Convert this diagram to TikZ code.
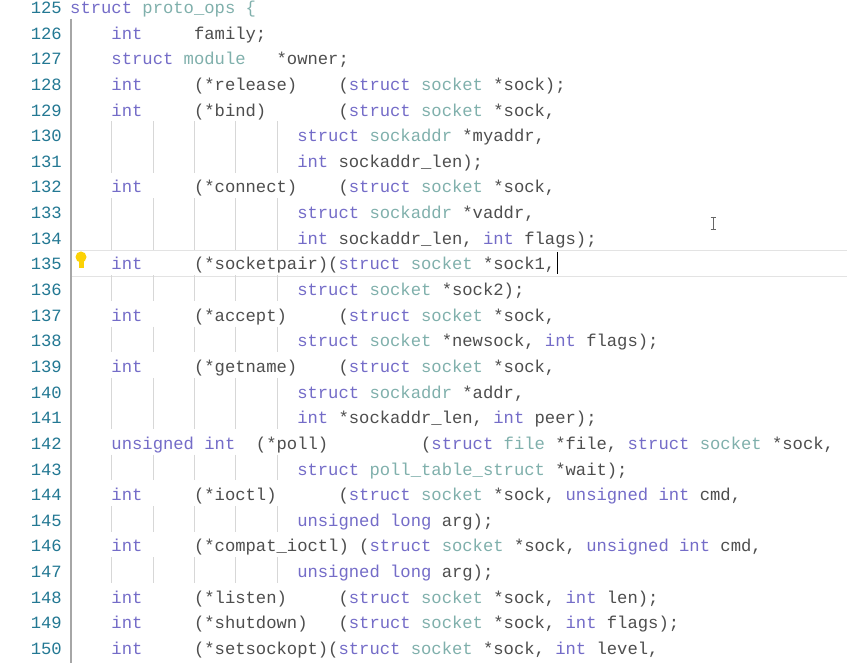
\documentclass[tikz,border=0pt]{standalone}
\usepackage{fontspec}
\setmonofont{Liberation Mono}
\definecolor{kwc}{RGB}{116,108,200}
\definecolor{tyc}{RGB}{128,176,172}
\definecolor{idc}{RGB}{78,78,78}
\definecolor{numc}{RGB}{35,120,147}
\definecolor{guidec}{RGB}{215,215,215}
\newcommand\ckw[1]{\textcolor{kwc}{#1}}
\newcommand\cty[1]{\textcolor{tyc}{#1}}
\begin{document}
\begin{tikzpicture}[x=1pt,y=-1pt,
  code/.style={anchor=base west,inner sep=0pt,font=\ttfamily\fontsize{17.2}{20}\selectfont,text=idc},
  lnum/.style={anchor=base east,inner sep=0pt,font=\ttfamily\fontsize{17.2}{20}\selectfont,text=numc}]
\useasboundingbox (0,0) rectangle (847,663);
\fill[white] (0,0) rectangle (847,663);
% current line highlight
\draw[guidec!70,fill=white] (71,250) rectangle (860,276);
% gutter guide
\draw[gray!70,line width=1.2pt] (71,19) -- (71,663);
% continuation guides
\foreach \n in {130,131,133,134,136,138,140,141,143,145,147}{
  \foreach \c in {4,8,12,16,20}{
    \draw[guidec] ({70+\c*10.35},{6+(\n-125)*25.64-12.8}) -- ({70+\c*10.35},{6+(\n-125)*25.64+12.8});
  }
}
% line numbers
\foreach \n in {125,...,150}{
  \node[lnum] (ln\n) at (62,{6+(\n-125)*25.64+7.5}) {\n};
}
\newcommand\cl[2]{\node[code] (c#1) at (70,{6+(#1-125)*25.64+7.5}) {#2};}
\cl{125}{\ckw{struct}~\cty{proto\_ops~\{}}
\cl{126}{~~~~\ckw{int}~~~~~family;}
\cl{127}{~~~~\ckw{struct}~\cty{module}~~~*owner;}
\cl{128}{~~~~\ckw{int}~~~~~(*release)~~~~(\ckw{struct}~\cty{socket}~*sock);}
\cl{129}{~~~~\ckw{int}~~~~~(*bind)~~~~~~~(\ckw{struct}~\cty{socket}~*sock,}
\cl{130}{~~~~~~~~~~~~~~~~~~~~~~\ckw{struct}~\cty{sockaddr}~*myaddr,}
\cl{131}{~~~~~~~~~~~~~~~~~~~~~~\ckw{int}~sockaddr\_len);}
\cl{132}{~~~~\ckw{int}~~~~~(*connect)~~~~(\ckw{struct}~\cty{socket}~*sock,}
\cl{133}{~~~~~~~~~~~~~~~~~~~~~~\ckw{struct}~\cty{sockaddr}~*vaddr,}
\cl{134}{~~~~~~~~~~~~~~~~~~~~~~\ckw{int}~sockaddr\_len,~\ckw{int}~flags);}
\cl{135}{~~~~\ckw{int}~~~~~(*socketpair)(\ckw{struct}~\cty{socket}~*sock1,}
\cl{136}{~~~~~~~~~~~~~~~~~~~~~~\ckw{struct}~\cty{socket}~*sock2);}
\cl{137}{~~~~\ckw{int}~~~~~(*accept)~~~~~(\ckw{struct}~\cty{socket}~*sock,}
\cl{138}{~~~~~~~~~~~~~~~~~~~~~~\ckw{struct}~\cty{socket}~*newsock,~\ckw{int}~flags);}
\cl{139}{~~~~\ckw{int}~~~~~(*getname)~~~~(\ckw{struct}~\cty{socket}~*sock,}
\cl{140}{~~~~~~~~~~~~~~~~~~~~~~\ckw{struct}~\cty{sockaddr}~*addr,}
\cl{141}{~~~~~~~~~~~~~~~~~~~~~~\ckw{int}~*sockaddr\_len,~\ckw{int}~peer);}
\cl{142}{~~~~\ckw{unsigned~int}~~(*poll)~~~~~~~~~(\ckw{struct}~\cty{file}~*file,~\ckw{struct}~\cty{socket}~*sock,}
\cl{143}{~~~~~~~~~~~~~~~~~~~~~~\ckw{struct}~\cty{poll\_table\_struct}~*wait);}
\cl{144}{~~~~\ckw{int}~~~~~(*ioctl)~~~~~~(\ckw{struct}~\cty{socket}~*sock,~\ckw{unsigned~int}~cmd,}
\cl{145}{~~~~~~~~~~~~~~~~~~~~~~\ckw{unsigned~long}~arg);}
\cl{146}{~~~~\ckw{int}~~~~~(*compat\_ioctl)~(\ckw{struct}~\cty{socket}~*sock,~\ckw{unsigned~int}~cmd,}
\cl{147}{~~~~~~~~~~~~~~~~~~~~~~\ckw{unsigned~long}~arg);}
\cl{148}{~~~~\ckw{int}~~~~~(*listen)~~~~~(\ckw{struct}~\cty{socket}~*sock,~\ckw{int}~len);}
\cl{149}{~~~~\ckw{int}~~~~~(*shutdown)~~~(\ckw{struct}~\cty{socket}~*sock,~\ckw{int}~flags);}
\cl{150}{~~~~\ckw{int}~~~~~(*setsockopt)(\ckw{struct}~\cty{socket}~*sock,~\ckw{int}~level,}
% text cursor on line 135
\draw[black,line width=1pt] (557,252) -- (557,274);
% lightbulb
\fill[yellow!70!orange] (81,257) circle (5.5);
\fill[yellow!70!orange] (78.5,261) rectangle (83.5,268);
% mouse I-beam
\draw[gray!80!black,line width=0.8pt] (713,217) -- (713,229) (710.5,217) -- (715.5,217) (710.5,229) -- (715.5,229);
\end{tikzpicture}
\end{document}
